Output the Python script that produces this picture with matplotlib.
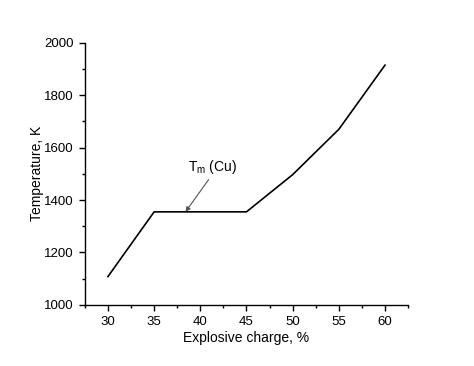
import matplotlib
matplotlib.use("Agg")
import matplotlib.pyplot as plt
from matplotlib.ticker import MultipleLocator

plt.rcParams['font.family'] = ['Liberation Sans', 'DejaVu Sans']

charge = [30, 35, 40, 45, 50, 55, 60]
temperature = [1108, 1355, 1355, 1355, 1497, 1670, 1915]

fig = plt.figure(figsize=(4.74, 3.66), dpi=100)
ax = fig.add_axes([0.179, 0.167, 0.682, 0.716])
ax.plot(charge, temperature, color='black', lw=1.2)

ax.set_xlim(27.5, 62.5)
ax.set_ylim(1000, 2000)
ax.xaxis.set_major_locator(MultipleLocator(5))
ax.xaxis.set_minor_locator(MultipleLocator(2.5))
ax.yaxis.set_major_locator(MultipleLocator(200))
ax.yaxis.set_minor_locator(MultipleLocator(100))
for s in ['top', 'right']:
    ax.spines[s].set_visible(False)
for s in ['left', 'bottom']:
    ax.spines[s].set_linewidth(1.0)
ax.tick_params(which='major', direction='out', length=4, width=1, labelsize=9.5, pad=4)
ax.tick_params(which='minor', direction='out', length=2.5, width=1)
ax.set_xlabel('Explosive charge, %', fontsize=10, labelpad=2)
ax.set_ylabel('Temperature, K', fontsize=10, labelpad=0)

ax.annotate('', xy=(38.4, 1355), xytext=(40.9, 1478),
            arrowprops=dict(arrowstyle='-|>', color='#555555', lw=0.8,
                            mutation_scale=7, shrinkA=0, shrinkB=0))
ax.text(41.3, 1490, r'T$_{\mathregular{m}}$ (Cu)', fontsize=10, ha='center', va='bottom')

fig.savefig('out.png', dpi=100)
